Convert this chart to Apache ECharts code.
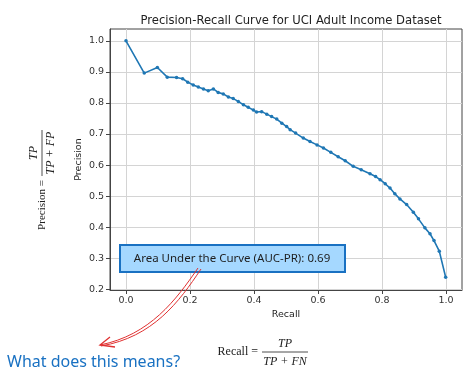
<!DOCTYPE html>
<html>
<head>
<meta charset="utf-8">
<script src="https://cdn.jsdelivr.net/npm/echarts@6/dist/echarts.min.js"></script>
<style>html,body{margin:0;padding:0;background:#fff;}#c{width:474px;height:380px;}</style>
</head>
<body>
<div id="c"></div>
<script>
const recall = [0.0,0.057,0.098,0.129,0.158,0.177,0.193,0.21,0.226,0.242,0.257,0.273,0.288,0.304,0.32,0.335,0.351,0.367,0.382,0.398,0.408,0.424,0.44,0.455,0.471,0.487,0.502,0.513,0.53,0.554,0.575,0.597,0.617,0.64,0.663,0.685,0.71,0.735,0.7625,0.78,0.794,0.81,0.825,0.84,0.856,0.877,0.898,0.914,0.934,0.95,0.9625,0.979,0.999];
const precision = [1.0,0.896,0.914,0.883,0.882,0.878,0.867,0.858,0.851,0.845,0.839,0.845,0.834,0.829,0.819,0.814,0.805,0.794,0.786,0.777,0.771,0.772,0.764,0.756,0.748,0.735,0.724,0.714,0.703,0.687,0.676,0.665,0.655,0.641,0.627,0.614,0.596,0.585,0.572,0.563,0.553,0.54,0.526,0.508,0.491,0.473,0.448,0.427,0.398,0.379,0.357,0.323,0.239];
const xTicks = [0.0,0.2,0.4,0.6,0.8,1.0];
const yTicks = [0.2,0.3,0.4,0.5,0.6,0.7,0.8,0.9,1.0];
const titleText = 'Precision-Recall Curve for UCI Adult Income Dataset';
const aucText = 'Area Under the Curve (AUC-PR): 0.69';
const questionText = 'What does this means?';

const chart = echarts.init(document.getElementById('c'), null, {renderer:'canvas'});
const tickFont = {fontFamily:'DejaVu Sans', fontSize:9.5, color:'#333'};
const serif = "'Liberation Serif','DejaVu Serif',serif";
const hand = "'Comic Sans MS','Noto Sans','DejaVu Sans',sans-serif";
chart.setOption({
  animation:false,
  title:{text:titleText, left:286, top:10, textAlign:'center',
    textStyle:{fontFamily:'DejaVu Sans', fontSize:11.6, fontWeight:'normal', color:'#222'}},
  grid:{left:110, right:12, top:29, bottom:90, show:true, borderColor:'#444', borderWidth:1},
  xAxis:{type:'value', min:-0.05, max:1.05,
    name:'Recall', nameLocation:'middle', nameGap:20, nameMoveOverlap:false,
    nameTextStyle:{fontFamily:'DejaVu Sans', fontSize:9.5, color:'#222'},
    axisLine:{show:true, onZero:false, lineStyle:{color:'#444'}},
    axisTick:{show:true, inside:false, length:4, customValues:xTicks, lineStyle:{color:'#444'}},
    axisLabel:Object.assign({margin:6, customValues:xTicks, formatter:v=>v.toFixed(1)}, tickFont),
    splitLine:{show:true, lineStyle:{color:'#d4d4d4', width:1}}},
  yAxis:{type:'value', min:0.198, max:1.038,
    name:'Precision', nameLocation:'middle', nameGap:26, nameMoveOverlap:false,
    nameTextStyle:{fontFamily:'DejaVu Sans', fontSize:9.5, color:'#222'},
    axisLine:{show:true, onZero:false, lineStyle:{color:'#444'}},
    axisTick:{show:true, inside:false, length:4, customValues:yTicks, lineStyle:{color:'#444'}},
    axisLabel:Object.assign({margin:6, customValues:yTicks, formatter:v=>v.toFixed(1)}, tickFont),
    splitLine:{show:true, lineStyle:{color:'#d4d4d4', width:1}}},
  series:[{type:'line', data:recall.map((r,i)=>[r,precision[i]]),
    symbol:'circle', symbolSize:3.5, showSymbol:true,
    lineStyle:{color:'#1f77b4', width:1.6}, itemStyle:{color:'#1f77b4'}}],
  graphic:[
    {type:'rect', shape:{x:120, y:245, width:225, height:27},
      style:{fill:'#a5d8ff', stroke:'#1971c2', lineWidth:2}, z:10},
    {type:'text', x:232, y:259, z:11, style:{text:aucText, fontFamily:hand, fontSize:11.5,
      fill:'#1e1e1e', align:'center', verticalAlign:'middle'}},
    {type:'bezierCurve', z:10, shape:{x1:198,y1:268,cpx1:176,cpy1:300,cpx2:150,cpy2:335,x2:100,y2:345},
      style:{stroke:'#e03131', lineWidth:1, fill:null}},
    {type:'bezierCurve', z:10, shape:{x1:201,y1:269,cpx1:179,cpy1:302,cpx2:153,cpy2:337,x2:101,y2:346},
      style:{stroke:'#e03131', lineWidth:1, fill:null}},
    {type:'polyline', z:10, shape:{points:[[110,337],[100,345],[115,347]]},
      style:{stroke:'#e03131', lineWidth:1.3, fill:null}},
    {type:'text', x:7, y:362, style:{text:questionText, fontFamily:hand, fontSize:16,
      fill:'#1971c2', align:'left', verticalAlign:'middle'}},
    {type:'group', x:0, y:0, children:[
      {type:'text', x:258, y:352, style:{text:'Recall =', fontFamily:serif, fontSize:12, fill:'#222', align:'right', verticalAlign:'middle'}},
      {type:'line', shape:{x1:262,y1:352,x2:308,y2:352}, style:{stroke:'#222', lineWidth:0.8}},
      {type:'text', x:285, y:344, style:{text:'TP', fontFamily:serif, fontStyle:'italic', fontSize:12, fill:'#222', align:'center', verticalAlign:'middle'}},
      {type:'text', x:285, y:362, style:{text:'TP + FN', fontFamily:serif, fontStyle:'italic', fontSize:12, fill:'#222', align:'center', verticalAlign:'middle'}}
    ]},
    {type:'group', x:42, y:176, rotation:Math.PI/2, children:[
      {type:'text', x:-4, y:0, style:{text:'Precision =', fontFamily:serif, fontSize:11, fill:'#222', align:'right', verticalAlign:'middle'}},
      {type:'line', shape:{x1:0,y1:0,x2:46,y2:0}, style:{stroke:'#222', lineWidth:0.8}},
      {type:'text', x:23, y:-8, style:{text:'TP', fontFamily:serif, fontStyle:'italic', fontSize:12, fill:'#222', align:'center', verticalAlign:'middle'}},
      {type:'text', x:23, y:9, style:{text:'TP + FP', fontFamily:serif, fontStyle:'italic', fontSize:12, fill:'#222', align:'center', verticalAlign:'middle'}}
    ]}
  ]
});
</script>
</body>
</html>
